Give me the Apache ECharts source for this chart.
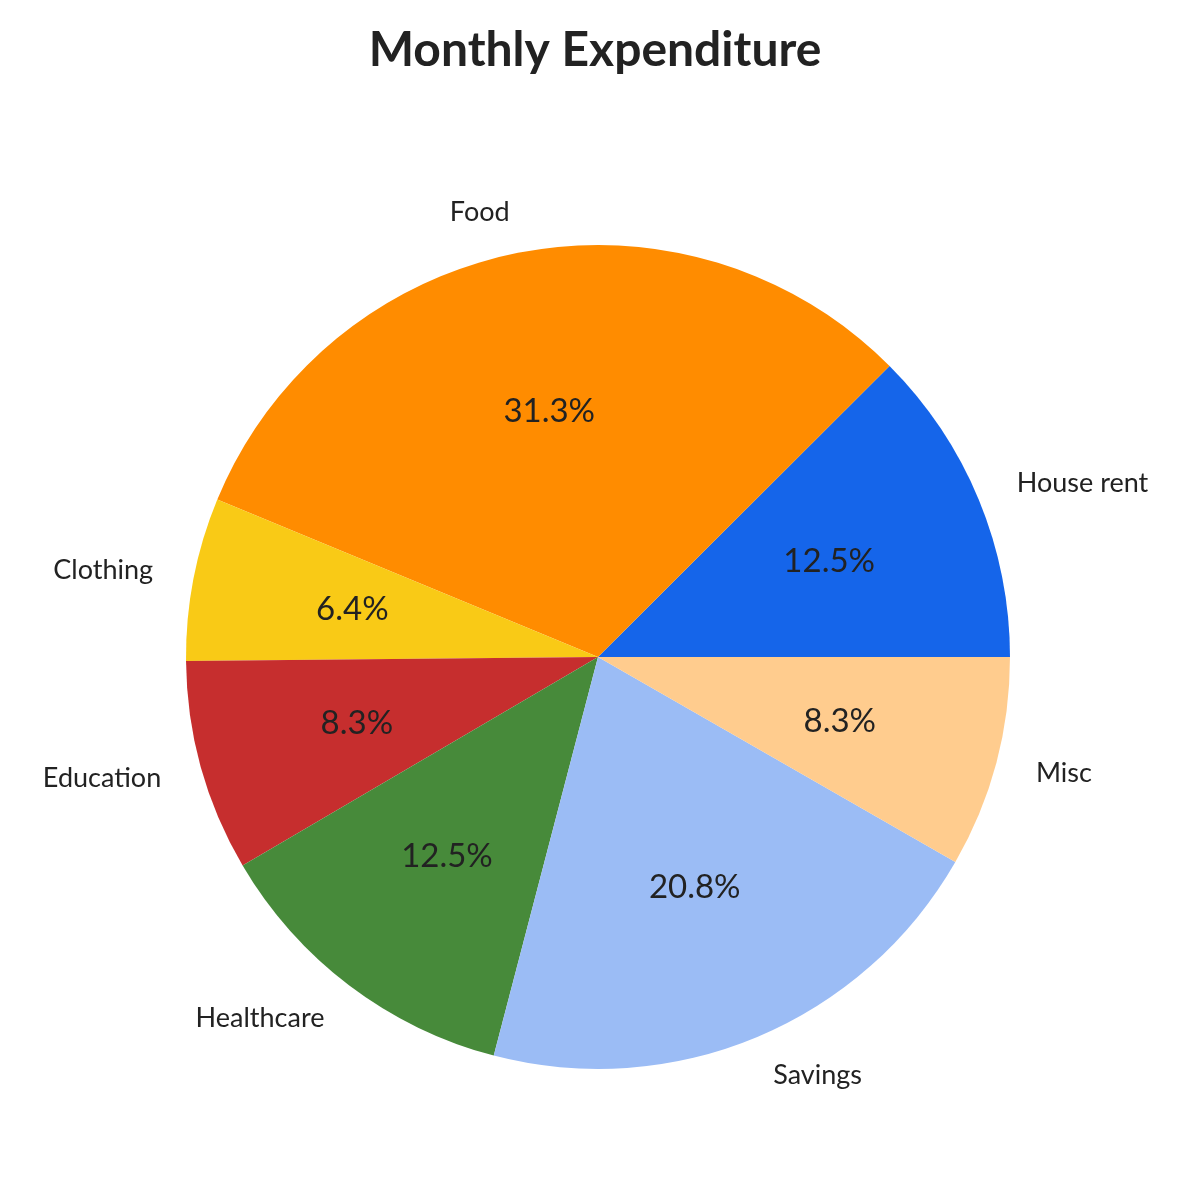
<!DOCTYPE html>
<html>
<head>
<meta charset="utf-8">
<script src="https://cdn.jsdelivr.net/npm/echarts@6/dist/echarts.min.js"></script>
<style>html,body{margin:0;background:#fff}#chart{width:1190px;height:1200px}</style>
</head>
<body>
<div id="chart"></div>
<script>
const categories = ['House rent', 'Food', 'Clothing', 'Education', 'Healthcare', 'Savings', 'Misc']
const shares = [12.5, 31.3, 6.4, 8.3, 12.5, 20.8, 8.3]
const colors = ['#1565ea', '#ff8c00', '#f9ca16', '#c62e2e', '#478a3a', '#9bbcf5', '#ffcc8e']

const R = 412
const center = [598, 657]
const font = 'Lato, "Noto Sans", sans-serif'

const chart = echarts.init(document.getElementById('chart'))
const pieData = categories.map((name, i) => ({ name, value: shares[i], itemStyle: { color: colors[i] } }))

chart.setOption({
  animation: false,
  title: {
    text: 'Monthly Expenditure',
    left: 'center',
    top: 22,
    textStyle: { fontFamily: font, fontSize: 48, fontWeight: 'bold', color: '#222' }
  },
  series: [{
    type: 'pie',
    center: center,
    radius: [0, R],
    startAngle: 0,
    clockwise: false,
    avoidLabelOverlap: false,
    silent: true,
    data: pieData,
    label: {
      position: 'outside',
      distanceToLabelLine: 0,
      fontFamily: font,
      fontSize: 27,
      color: '#222',
      formatter: '{b}'
    },
    labelLine: { show: false, length: 0.1 * R, length2: 0 }
  }, {
    type: 'pie',
    center: center,
    radius: [0, 1.2 * R],
    startAngle: 0,
    clockwise: false,
    silent: true,
    data: pieData.map(d => ({ name: d.name, value: d.value, itemStyle: { color: 'rgba(0,0,0,0)' } })),
    label: {
      position: 'inside',
      fontFamily: font,
      fontSize: 33,
      color: '#222',
      formatter: p => p.value.toFixed(1) + '%'
    },
    labelLine: { show: false }
  }]
})
</script>
</body>
</html>
